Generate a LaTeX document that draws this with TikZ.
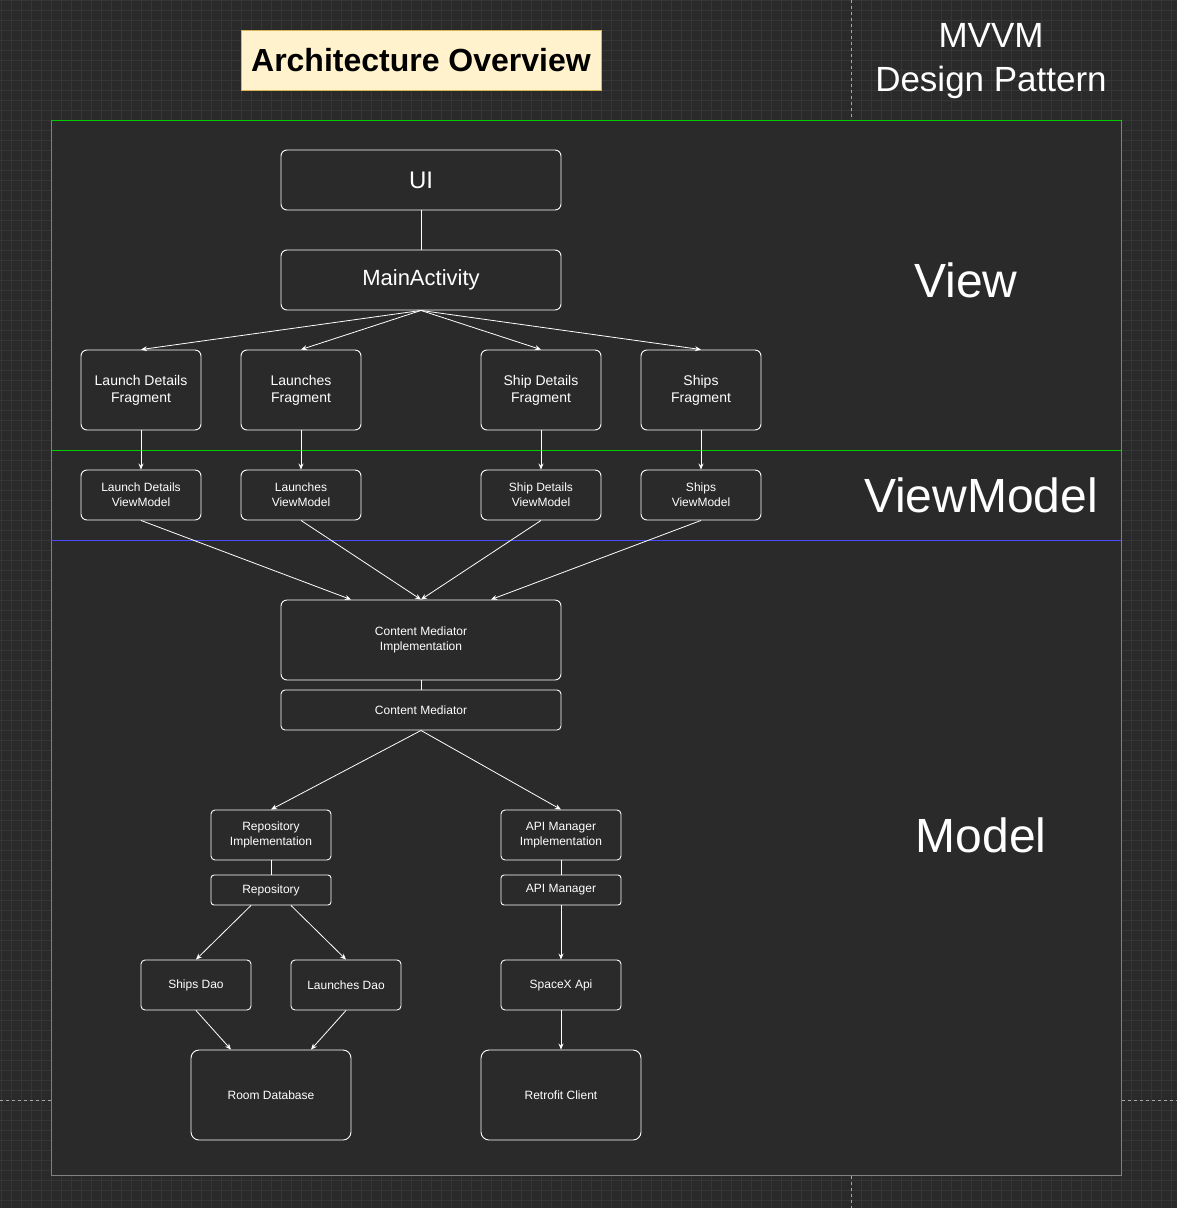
\documentclass[tikz,border=0pt]{standalone}
\usepackage{fontspec}
\setmainfont{Liberation Sans}
\usetikzlibrary{arrows.meta}
\definecolor{bgdark}{HTML}{2A2A2A}
\definecolor{gridc}{HTML}{363636}
\definecolor{titlebg}{HTML}{FFF2CC}
\definecolor{titleborder}{HTML}{D6B656}
\tikzset{
  box/.style={draw=white, line width=0.9pt, rounded corners=6pt, text=white, align=center, inner sep=0pt},
  link/.style={draw=white, line width=0.8pt, -{Stealth[length=6pt,width=5pt]}},
  plain/.style={draw=white, line width=0.8pt},
  big/.style={text=white, font=\fontsize{48}{52}\selectfont}
}
\begin{document}
\begin{tikzpicture}[x=1pt, y=-1pt]

    \fill[bgdark] (0,0) rectangle (1177,1208);
    \useasboundingbox (0,0) rectangle (1177,1208);
    \foreach \i in {0,10,...,1170} {%
        \draw[gridc, line width=0.4pt] (\i+1,0) -- (\i+1,1208);%
    }
    \foreach \i in {0,10,...,1200} {%
        \draw[gridc, line width=0.4pt] (0,\i) -- (1177,\i);%
    }
    \draw[gray!70, dashed] (851,0) -- (851,1208);
    \draw[gray!70, dashed] (0,1100) -- (1177,1100);

    % main frame
    \filldraw[fill=bgdark, draw=gray] (51,120) rectangle (1121,1175);
    \draw[green!80!black] (51,120) -- (1121,120);
    \draw[green!80!black] (51,450) -- (1121,450);
    \draw[blue!70!white] (51,540) -- (1121,540);
    \draw[gray] (51,450) -- (51,540) (1121,450) -- (1121,540);

    % title and labels
    \node[draw=titleborder, fill=titlebg, minimum width=360pt, minimum height=60pt, font=\bfseries\fontsize{32}{36}\selectfont] (title) at (421,60) {Architecture Overview};
    \node[text=white, align=center, font=\fontsize{35}{44}\selectfont] (mvvm) at (991,61) {MVVM\\Design Pattern};
    \node[big] (lview) at (966,280) {View};
    \node[big] (lvm) at (981,495) {ViewModel};
    \node[big] (lmodel) at (981,835) {Model};

    % view layer
    \node[box, minimum width=280pt, minimum height=60pt, font=\fontsize{24}{28}\selectfont] (ui) at (421,180) {UI};
    \node[box, minimum width=280pt, minimum height=60pt, font=\fontsize{22}{26}\selectfont] (main) at (421,280) {MainActivity};
    \node[box, minimum width=120pt, minimum height=80pt, font=\fontsize{14}{17}\selectfont] (ldf) at (141,390) {Launch Details\\Fragment};
    \node[box, minimum width=120pt, minimum height=80pt, font=\fontsize{14}{17}\selectfont] (lf) at (301,390) {Launches\\Fragment};
    \node[box, minimum width=120pt, minimum height=80pt, font=\fontsize{14}{17}\selectfont] (sdf) at (541,390) {Ship Details\\Fragment};
    \node[box, minimum width=120pt, minimum height=80pt, font=\fontsize{14}{17}\selectfont] (sf) at (701,390) {Ships\\Fragment};

    % viewmodel layer
    \node[box, minimum width=120pt, minimum height=50pt, font=\fontsize{12}{15}\selectfont] (ldvm) at (141,495) {Launch Details\\ViewModel};
    \node[box, minimum width=120pt, minimum height=50pt, font=\fontsize{12}{15}\selectfont] (lvmn) at (301,495) {Launches\\ViewModel};
    \node[box, minimum width=120pt, minimum height=50pt, font=\fontsize{12}{15}\selectfont] (sdvm) at (541,495) {Ship Details\\ViewModel};
    \node[box, minimum width=120pt, minimum height=50pt, font=\fontsize{12}{15}\selectfont] (svm) at (701,495) {Ships\\ViewModel};

    % model layer
    \node[box, minimum width=280pt, minimum height=80pt, font=\fontsize{12}{15}\selectfont] (cmi) at (421,640) {Content Mediator\\Implementation};
    \node[box, minimum width=280pt, minimum height=40pt, rounded corners=4pt, font=\fontsize{12}{15}\selectfont] (cm) at (421,710) {Content Mediator};
    \node[box, minimum width=120pt, minimum height=50pt, rounded corners=4pt, font=\fontsize{12}{15}\selectfont] (ri) at (271,835) {Repository\\Implementation};
    \node[box, minimum width=120pt, minimum height=30pt, rounded corners=3pt, font=\fontsize{12}{15}\selectfont] (repo) at (271,890) {Repository};
    \node[box, minimum width=120pt, minimum height=50pt, rounded corners=4pt, font=\fontsize{12}{15}\selectfont] (ami) at (561,835) {API Manager\\Implementation};
    \node[box, minimum width=120pt, minimum height=30pt, rounded corners=3pt, font=\fontsize{12}{15}\selectfont] (am) at (561,890) {API Manager};
    \node[box, minimum width=110pt, minimum height=50pt, rounded corners=4pt, font=\fontsize{12}{15}\selectfont] (sdao) at (196,985) {Ships Dao};
    \node[box, minimum width=110pt, minimum height=50pt, rounded corners=4pt, font=\fontsize{12}{15}\selectfont] (ldao) at (346,985) {Launches Dao};
    \node[box, minimum width=120pt, minimum height=50pt, rounded corners=4pt, font=\fontsize{12}{15}\selectfont] (api) at (561,985) {SpaceX Api};
    \node[box, minimum width=160pt, minimum height=90pt, rounded corners=8pt, font=\fontsize{12}{15}\selectfont] (room) at (271,1095) {Room Database};
    \node[box, minimum width=160pt, minimum height=90pt, rounded corners=8pt, font=\fontsize{12}{15}\selectfont] (retro) at (561,1095) {Retrofit Client};

    % connectors
    \draw[plain] (ui) -- (main);
    \draw[link] (main.south) -- (ldf.north);
    \draw[link] (main.south) -- (lf.north);
    \draw[link] (main.south) -- (sdf.north);
    \draw[link] (main.south) -- (sf.north);

    \draw[link] (ldf) -- (ldvm);
    \draw[link] (lf) -- (lvmn);
    \draw[link] (sdf) -- (sdvm);
    \draw[link] (sf) -- (svm);

    \draw[link] (ldvm.south) -- ([xshift=-70pt]cmi.north);
    \draw[link] (lvmn.south) -- (cmi.north);
    \draw[link] (sdvm.south) -- (cmi.north);
    \draw[link] (svm.south) -- ([xshift=70pt]cmi.north);

    \draw[plain] (cmi) -- (cm);
    \draw[link] (cm.south) -- (ri.north);
    \draw[link] (cm.south) -- (ami.north);

    \draw[plain] (ri) -- (repo);
    \draw[link] ([xshift=-20pt]repo.south) -- (sdao.north);
    \draw[link] ([xshift=20pt]repo.south) -- (ldao.north);
    \draw[link] (sdao.south) -- ([xshift=-40pt]room.north);
    \draw[link] (ldao.south) -- ([xshift=40pt]room.north);

    \draw[plain] (ami) -- (am);
    \draw[link] (am) -- (api);
    \draw[link] (api) -- (retro);

\end{tikzpicture}
\end{document}
